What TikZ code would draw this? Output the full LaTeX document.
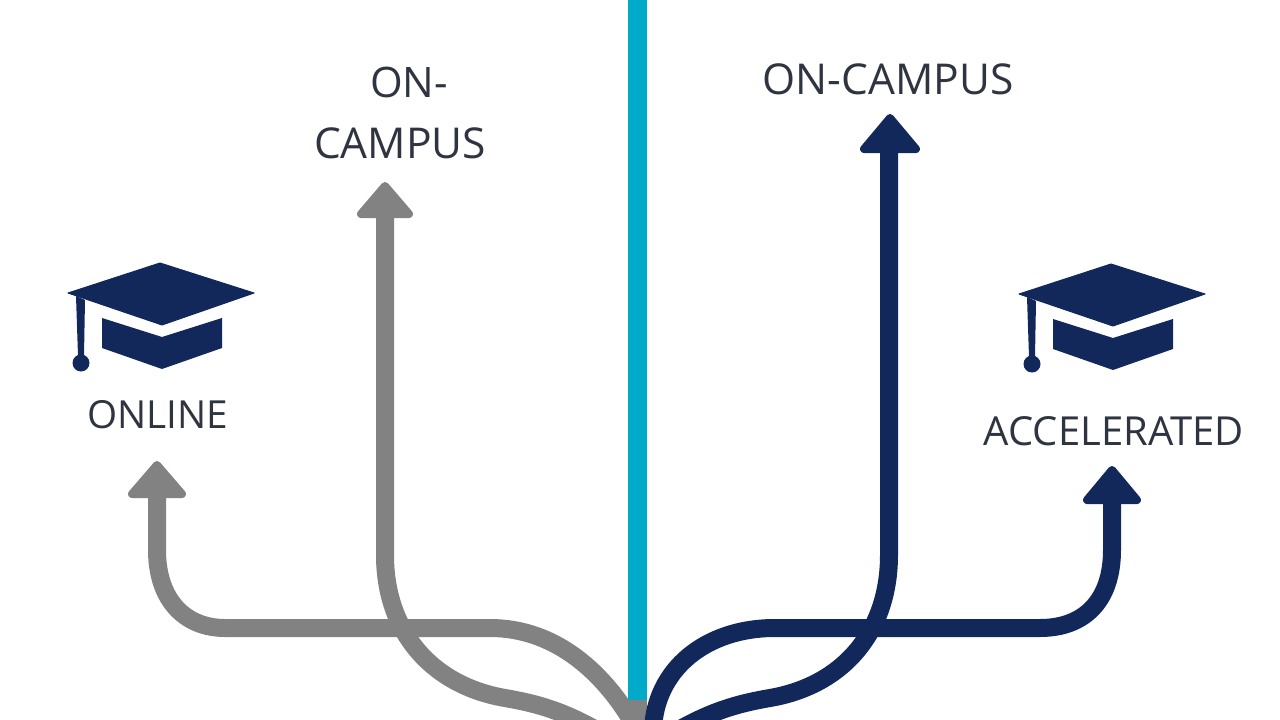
\documentclass[tikz,border=0pt]{standalone}
\usepackage{fontspec}
\setmainfont{Open Sans}
\definecolor{navy}{HTML}{12285A}
\definecolor{gry}{HTML}{828282}
\definecolor{cyn}{HTML}{00AAC8}
\definecolor{txt}{HTML}{2E3440}
\tikzset{
  label text/.style={text=txt,font=\fontsize{#1}{#1}\selectfont,inner sep=0pt,anchor=center},
  route/.style={draw=#1,line width=18pt,line cap=butt},
  head/.style={fill=#1,draw=#1,line width=8pt,line join=round},
  cap shape/.pic={
    \fill[navy,draw=navy,line width=1pt,line join=round] (160,263) -- (254,293) -- (162,325) -- (68,293) -- cycle;
    \fill[navy] (102,318) -- (162,337) -- (222,318) -- (222,348) -- (162,369) -- (102,348) -- cycle;
    \fill[navy] (76,296) -- (85,300) -- (84,356) -- (78,356) -- cycle;
    \fill[navy] (81,363) circle (8.5);
  }
}
\begin{document}
\begin{tikzpicture}[x=1pt,y=-1pt]
\useasboundingbox (0,0) rectangle (1280,720);
\fill[white] (0,0) rectangle (1280,720);
% centre bar
\coordinate (bartop) at (637.5,0);
\coordinate (barbot) at (637.5,702);
\draw[cyn,line width=19pt] (bartop) -- (barbot);
% grey routes
\coordinate (g1a) at (157,492);
\coordinate (g1b) at (157,550);
\coordinate (g1c) at (225,628);
\coordinate (g1d) at (490,628);
\coordinate (root) at (637,730);
\draw[route=gry] (g1a) -- (g1b) .. controls (157,600) and (185,628) .. (g1c) -- (g1d) .. controls (555,628) and (605,672) .. (root);
\coordinate (g2a) at (385,212);
\coordinate (g2b) at (385,555);
\coordinate (g2c) at (505,698);
\coordinate (g2d) at (600,732);
\draw[route=gry] (g2a) -- (g2b) .. controls (385,630) and (430,685) .. (g2c) .. controls (540,704) and (565,712) .. (g2d);
\fill[gry] (628,700) rectangle (647,720);
% navy routes
\coordinate (n1a) at (889,148);
\coordinate (n1b) at (889,555);
\coordinate (n1c) at (770,698);
\coordinate (n1d) at (675,732);
\draw[route=navy] (n1a) -- (n1b) .. controls (889,630) and (845,685) .. (n1c) .. controls (735,704) and (710,712) .. (n1d);
\coordinate (n2a) at (1112,498);
\coordinate (n2b) at (1112,550);
\coordinate (n2c) at (1040,628);
\coordinate (n2d) at (775,628);
\coordinate (root2) at (653,730);
\draw[route=navy] (n2a) -- (n2b) .. controls (1112,600) and (1085,628) .. (n2c) -- (n2d) .. controls (705,628) and (655,670) .. (root2);
% arrow heads
\filldraw[head=gry] (157,465) -- (182,494) -- (132,494) -- cycle;
\filldraw[head=gry] (385,186) -- (409,214) -- (361,214) -- cycle;
\filldraw[head=navy] (890,118) -- (916,149) -- (864,149) -- cycle;
\filldraw[head=navy] (1112,470) -- (1137,500) -- (1087,500) -- cycle;
% caps
\pic at (0,0) {cap shape};
\pic at (951,1) {cap shape};
% labels
\node[label text=38.7] (online) at (158,415) {ONLINE};
\node[label text=42] (on) at (409,82) {ON-};
\node[label text=42.5] (campus) at (400,143) {CAMPUS};
\node[label text=42.5] (oncampus) at (888,79) {ON-CAMPUS};
\node[label text=40] (accel) at (1114,431) {ACCELERATED};
\end{tikzpicture}
\end{document}
